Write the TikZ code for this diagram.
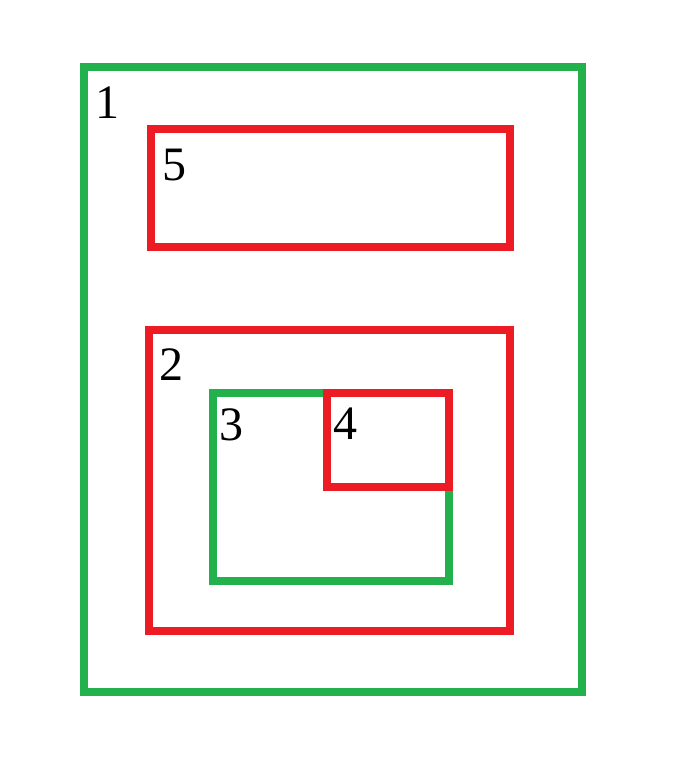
\documentclass[tikz,border=0pt]{standalone}
\usepackage{fontspec}
\setmainfont{Liberation Serif}
\definecolor{pgreen}{HTML}{22B14C}
\definecolor{pred}{HTML}{ED1C24}
\begin{document}
\begin{tikzpicture}[x=1pt,y=-1pt,
  gbox/.style={draw=pgreen,line width=8pt},
  rbox/.style={draw=pred,line width=8pt},
  lbl/.style={anchor=base west,inner sep=0pt,font=\fontsize{48}{50}\selectfont}]
\useasboundingbox[fill=white] (0,0) rectangle (692,778);
\draw[gbox] (84,67) rectangle (582,692);
\draw[rbox] (151,129) rectangle (510,246.7);
\draw[rbox] (149,330) rectangle (510,630.7);
\draw[gbox] (213.3,393.3) rectangle (449,580.7);
\draw[rbox] (327.3,392.5) rectangle (449,486.7);
\node[lbl] (l1) at (95.4,118.3) {1};
\node[lbl] (l5) at (161.8,180.5) {5};
\node[lbl] (l2) at (159,380) {2};
\node[lbl] (l3) at (219.7,440.8) {3};
\node[lbl] (l4) at (333.4,439.3) {4};
\end{tikzpicture}
\end{document}
